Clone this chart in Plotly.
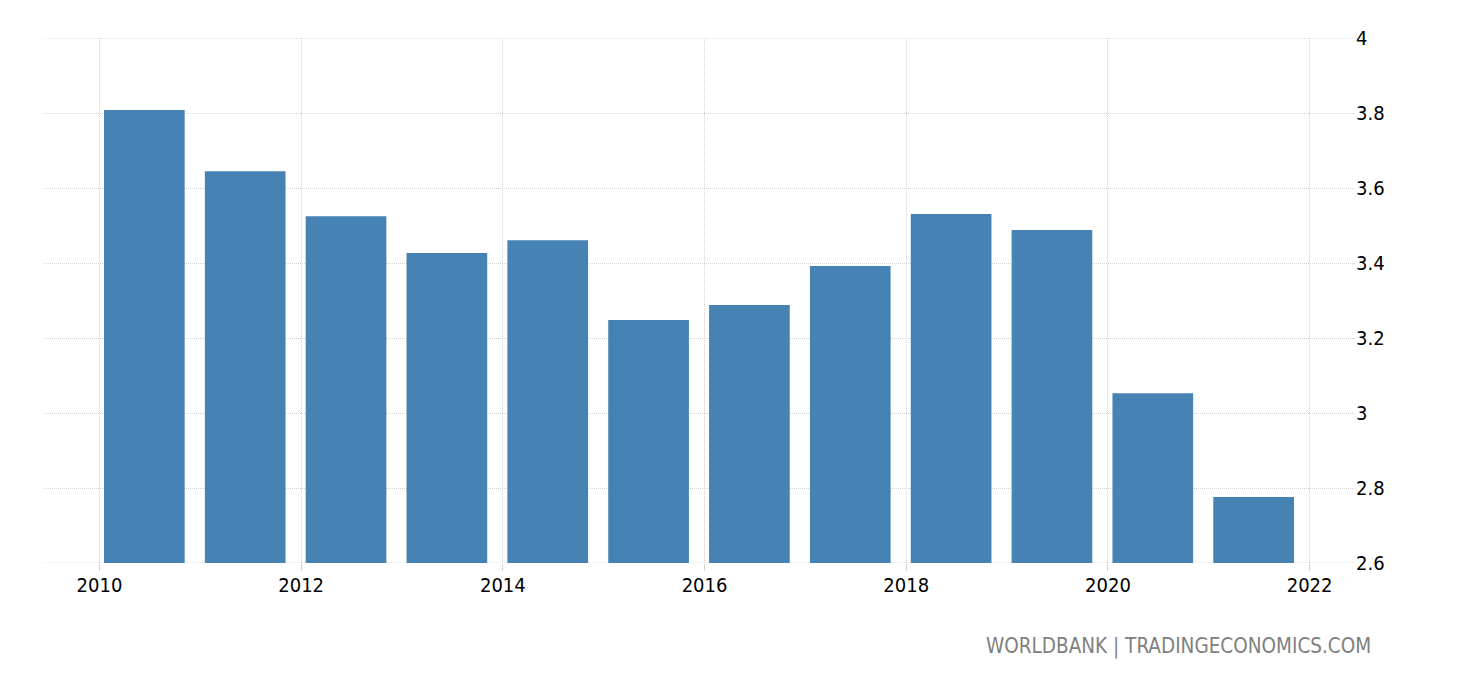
import plotly.graph_objects as go

years = [2010, 2011, 2012, 2013, 2014, 2015, 2016, 2017, 2018, 2019, 2020, 2021]
values = [3.808, 3.645, 3.525, 3.427, 3.461, 3.248, 3.288, 3.392, 3.531, 3.488, 3.053, 2.776]
x_ticks = [2010, 2012, 2014, 2016, 2018, 2020, 2022]
x_tick_labels = [str(v) for v in x_ticks]
y_ticks = [2.6, 2.8, 3.0, 3.2, 3.4, 3.6, 3.8, 4.0]
y_tick_labels = ["2.6", "2.8", "3", "3.2", "3.4", "3.6", "3.8", "4"]

Y_FLOOR = 2.6
Y_TOP = 4.0
FONT = "DejaVu Sans Condensed, Liberation Sans, sans-serif"
GRID = "#d2d2d2"

fig = go.Figure()
fig.add_trace(go.Bar(
    x=years, y=[v - Y_FLOOR for v in values], base=Y_FLOOR,
    offset=0.045, width=0.80,
    marker=dict(color="#4682B4", line=dict(width=0)),
    customdata=values,
    hovertemplate="%{x}: %{customdata}<extra></extra>",
))

# edge gridlines (top and bottom of the value range)
for yv in (Y_FLOOR, Y_TOP):
    fig.add_shape(type="line", xref="paper", yref="y", x0=0, x1=1, y0=yv, y1=yv,
                  line=dict(color=GRID, width=1, dash="1px,1px"), layer="below")

fig.update_layout(
    width=1460, height=680,
    margin=dict(l=44, r=105, t=38, b=117),
    plot_bgcolor="white", paper_bgcolor="white",
    showlegend=False,
    font=dict(family=FONT, size=20, color="#000000"),
    xaxis=dict(
        range=[2009.45, 2022.45],
        tickvals=x_ticks, ticktext=x_tick_labels,
        showgrid=True, gridcolor=GRID, griddash="1px,1px", gridwidth=1,
        ticks="outside", ticklen=7, tickcolor=GRID,
        ticklabelstandoff=-3,
        zeroline=False, showline=False,
    ),
    yaxis=dict(
        side="right",
        range=[Y_FLOOR, Y_TOP],
        tickvals=y_ticks, ticktext=y_tick_labels,
        showgrid=True, gridcolor=GRID, griddash="1px,1px", gridwidth=1,
        ticks="", zeroline=False, showline=False,
    ),
    annotations=[dict(
        text="WORLDBANK | TRADINGECONOMICS.COM",
        xref="paper", yref="paper", x=1.0, y=-0.155,
        xanchor="right", yanchor="middle",
        xshift=18, yshift=-2,
        showarrow=False,
        font=dict(family=FONT, size=20.5, color="#808080"),
    )],
)

fig.write_html("out.html")
